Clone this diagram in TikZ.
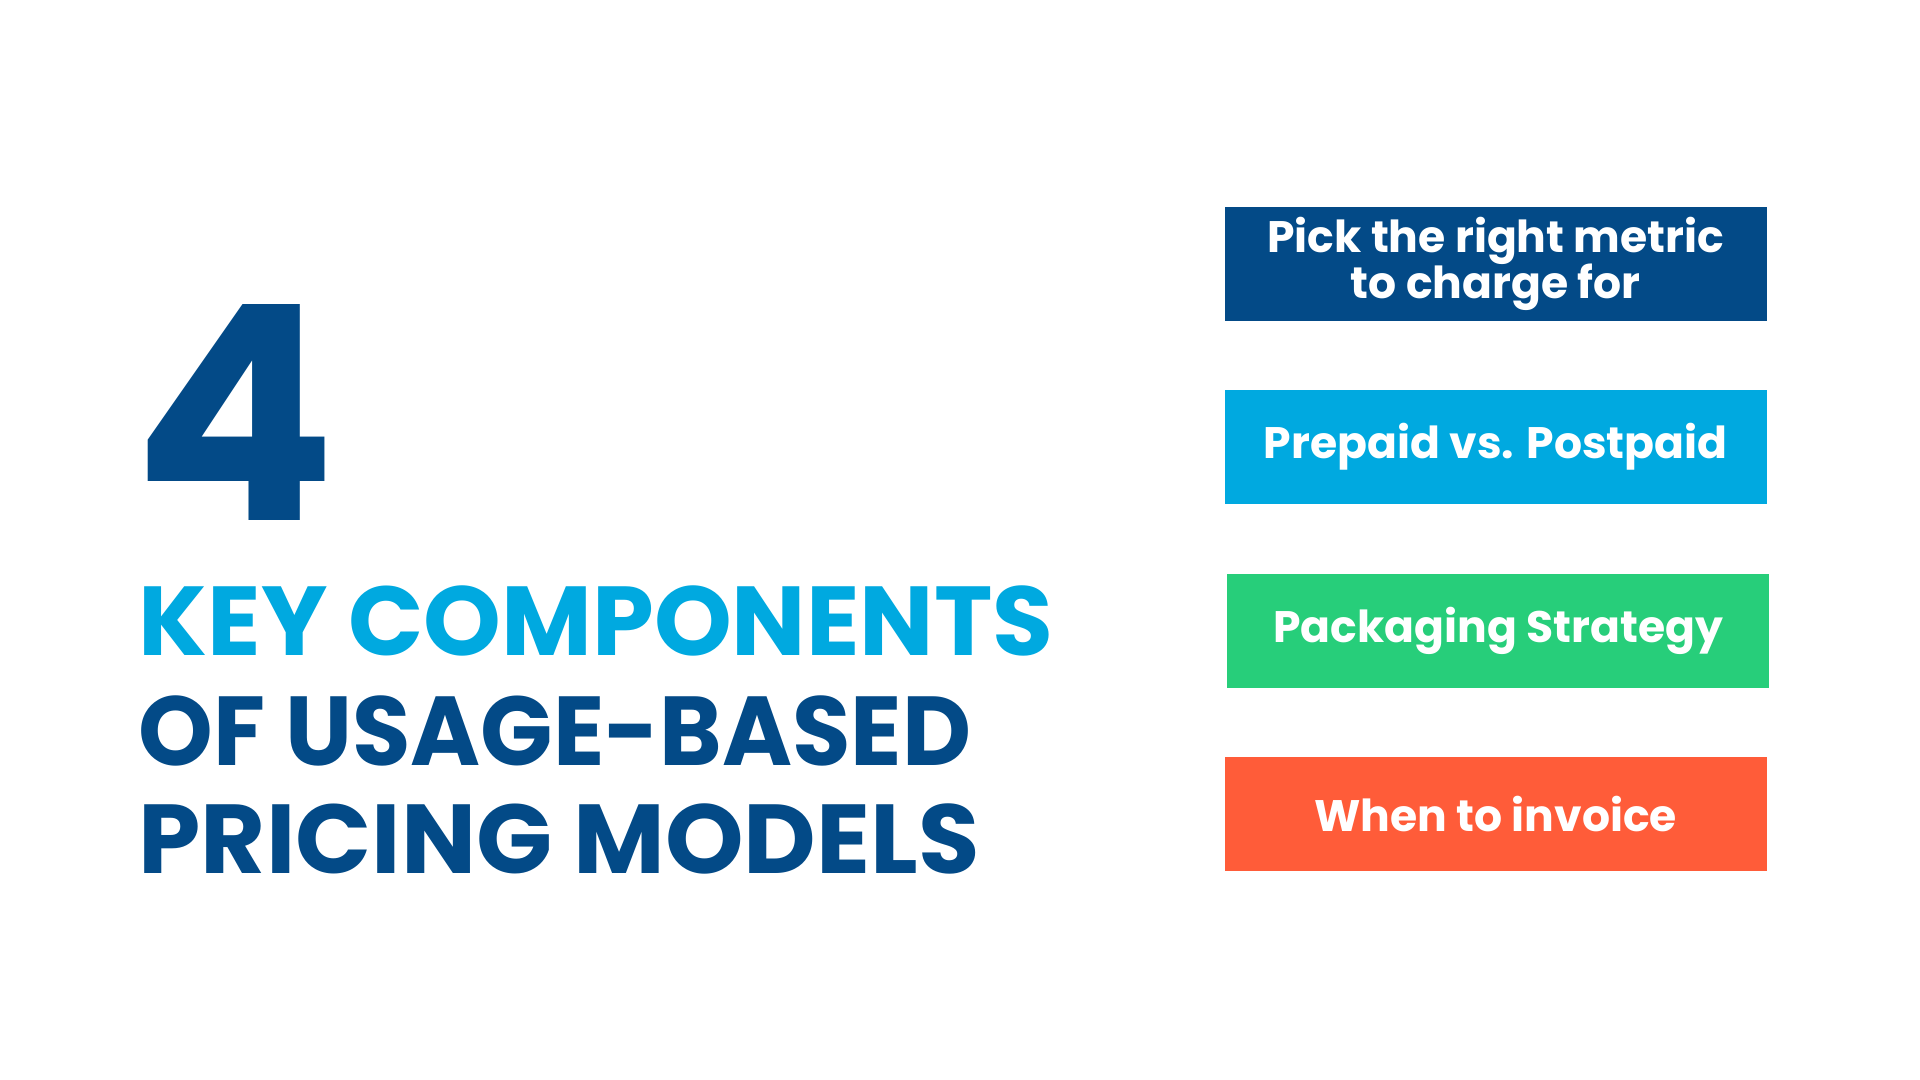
\documentclass[tikz,border=0pt]{standalone}
\usepackage{fontspec}
\setmainfont{Poppins}
\definecolor{dblue}{HTML}{034A87}
\definecolor{cyanb}{HTML}{00A9E0}
\definecolor{greenb}{HTML}{27CE7A}
\definecolor{orangeb}{HTML}{FF5C39}
\begin{document}
\begin{tikzpicture}[x=1pt,y=-1pt,
  ttl/.style={anchor=base west,inner sep=0pt,font=\fontsize{80}{80}\selectfont\bfseries},
  cbox/.style={minimum width=443pt,minimum height=93pt,inner sep=0pt,text=white,align=center,font=\fontsize{36}{38}\selectfont\bfseries}]
\useasboundingbox[fill=white] (0,0) rectangle (1568,882);
\node[ttl,text=dblue,text depth=0pt,font=\fontsize{245}{245}\selectfont\bfseries] (four) at (109,425) {4};
\node[ttl,text=cyanb] (l1) at (113,535) {\scalebox{1.01}[1]{KEY COMPONENTS}};
\node[ttl,text=dblue] (l2) at (113,625) {\scalebox{0.97}[1]{OF USAGE-BASED}};
\node[ttl,text=dblue] (l3) at (113,713) {\scalebox{1.02}[1]{PRICING MODELS}};
\node[cbox,fill=dblue] (b1) at (1221.5,215.5) {Pick the right metric\\[-2pt]to charge for};
\node[cbox,fill=cyanb] (b2) at (1221.5,365) {Prepaid vs. Postpaid};
\node[cbox,fill=greenb] (b3) at (1223.5,515) {Packaging Strategy};
\node[cbox,fill=orangeb] (b4) at (1221.5,665) {When to invoice};
\end{tikzpicture}
\end{document}
